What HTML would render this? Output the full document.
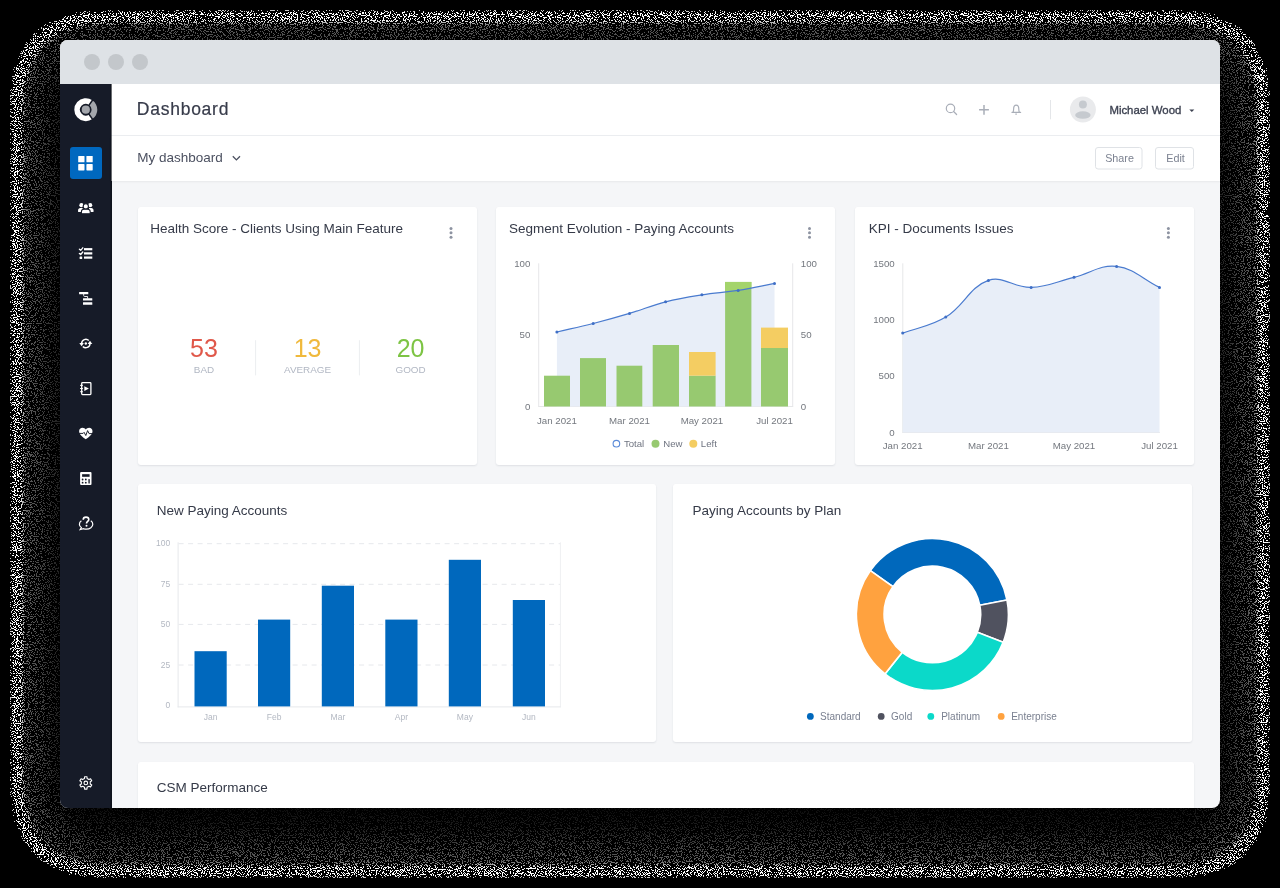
<!DOCTYPE html>
<html><head><meta charset="utf-8">
<style>
*{margin:0;padding:0;box-sizing:border-box}
html,body{width:1280px;height:888px;overflow:hidden;background:#000;font-family:"Liberation Sans",sans-serif}
.abs{position:absolute;will-change:transform}
#shadow{position:absolute;left:0;top:0;width:1280px;height:888px}
#win{position:absolute;left:0;top:0;width:1280px;height:888px;clip-path:inset(40px 60px 80px 60px round 8px);background:#f5f6f8}
#titlebar{position:absolute;left:60px;top:40px;width:1160px;height:44px;background:#dee2e6}
.dot{position:absolute;top:54px;width:16px;height:16px;border-radius:50%;background:#c3c7cb}
#sidebar{position:absolute;left:60px;top:84px;width:51.6px;height:724px;background:#161b28}
#header{position:absolute;left:111px;top:84px;width:1109px;height:52px;background:#fff;border-bottom:1px solid #eceef1}
#subheader{position:absolute;left:111px;top:136px;width:1109px;height:45px;background:#fff;box-shadow:0 1px 2px rgba(0,0,0,0.06)}
.card{position:absolute;background:#fff;border-radius:3px;box-shadow:0 1px 2px rgba(30,40,60,0.10)}
.ctitle{position:absolute;font-size:13.5px;color:#353a47;white-space:nowrap;line-height:1}
.kebab{position:absolute;width:3px;height:12px}
.kebab i{position:absolute;left:0;width:3px;height:3px;border-radius:50%;background:#9aa0ab}
.t{position:absolute;white-space:nowrap;line-height:1}
</style></head>
<body>
<svg id="shadow" width="1280" height="888" viewBox="0 0 1280 888">
<defs>
<filter id="dith" filterUnits="userSpaceOnUse" x="0" y="0" width="1280" height="888" color-interpolation-filters="sRGB">
  <feGaussianBlur in="SourceGraphic" stdDeviation="25" result="bl"/>
  <feComponentTransfer in="bl" result="sq"><feFuncR type="gamma" amplitude="1" exponent="0.5" offset="0"/><feFuncG type="gamma" amplitude="1" exponent="0.5" offset="0"/><feFuncA type="linear" slope="0" intercept="1"/></feComponentTransfer>
  <feComponentTransfer in="sq" result="maps"><feFuncR type="table" tableValues="0 0 0 0 0 0 0 0 0 0 0 0 0 0 0 0 0 0 0 0 0 0 0 0 0 0 0 0 0 0 0.1 0.212 0.241 0.271 0.3 0.33 0.328 0.327 0.325 0.323 0.322 0.32 0.318 0.317 0.315 0.313 0.312 0.31 0.307 0.304 0.301 0.298 0.295 0.292 0.288 0.285 0.282 0.279 0.276 0.273 0.27 0.27 0.269 0.269 0.269 0.268 0.268 0.268 0.267 0.267 0.267 0.267 0.266 0.266 0.266 0.265 0.265 0.265 0.264 0.264 0.264 0.263 0.263 0.263 0.262 0.262 0.262 0.261 0.261 0.261 0.261 0.26 0.26 0.259 0.259 0.259 0.258 0.258 0.257 0.257 0.257 0.256 0.256 0.255 0.255 0.255 0.254 0.254 0.253 0.253 0.253 0.252 0.252 0.251 0.251 0.251 0.25 0.25 0.249 0.249 0.249 0.248 0.248 0.247 0.247 0.247 0.246 0.246 0.245 0.245 0.245 0.244 0.244 0.243 0.243 0.243 0.242 0.242 0.241 0.241 0.241 0.24 0.24 0.239 0.239 0.239 0.238 0.238 0.238 0.237 0.237 0.237 0.236 0.236 0.236 0.235 0.235 0.235 0.234 0.234 0.234 0.233 0.233 0.233 0.232 0.232 0.232 0.231 0.231 0.231 0.23 0.23 0.23 0.229 0.229 0.229 0.228 0.228 0.228 0.227 0.227 0.226 0.226 0.226 0.225 0.225 0.225 0.224 0.224 0.224 0.223 0.223 0.223 0.222 0.222 0.222 0.221 0.221 0.221 0.22 0.22"/><feFuncG type="table" tableValues="0 0 0 0 0 0 0 0 0 0 0 0 0 0 0 0 0 0 0 0 0 0 0 0 0 0 0 0 0 0 0.5 1 1 1 1 1 1 1 1 1 1 1 1 1 1 1 1 1 0.948 0.896 0.844 0.793 0.741 0.693 0.648 0.604 0.559 0.514 0.469 0.425 0.38 0.377 0.374 0.371 0.367 0.364 0.361 0.358 0.355 0.352 0.348 0.345 0.342 0.339 0.336 0.333 0.329 0.326 0.323 0.32 0.317 0.314 0.31 0.307 0.304 0.301 0.298 0.295 0.291 0.288 0.285 0.282 0.279 0.276 0.272 0.269 0.266 0.263 0.259 0.256 0.253 0.25 0.247 0.243 0.24 0.237 0.234 0.231 0.227 0.224 0.221 0.218 0.214 0.211 0.208 0.205 0.202 0.198 0.195 0.192 0.189 0.186 0.182 0.179 0.176 0.173 0.169 0.166 0.163 0.16 0.157 0.153 0.15 0.147 0.144 0.141 0.137 0.134 0.131 0.128 0.124 0.121 0.119 0.117 0.115 0.113 0.111 0.109 0.107 0.105 0.103 0.102 0.1 0.098 0.096 0.094 0.092 0.09 0.088 0.086 0.084 0.082 0.08 0.078 0.077 0.075 0.073 0.071 0.069 0.067 0.065 0.063 0.061 0.059 0.057 0.055 0.053 0.052 0.05 0.049 0.049 0.049 0.048 0.048 0.047 0.047 0.046 0.046 0.045 0.045 0.045 0.044 0.044 0.043 0.043 0.042 0.042 0.041 0.041 0.04 0.04"/></feComponentTransfer>
  <feColorMatrix in="maps" type="matrix" values="1 0 0 0 0  1 0 0 0 0  1 0 0 0 0  0 0 0 0 1" result="dens"/>
  <feColorMatrix in="maps" type="matrix" values="0 1 0 0 0  0 1 0 0 0  0 1 0 0 0  0 0 0 0 1" result="col"/>
  <feTurbulence type="fractalNoise" baseFrequency="0.85" numOctaves="2" seed="7" result="n"/>
  <feColorMatrix in="n" type="matrix" values="1 0 0 0 0  1 0 0 0 0  1 0 0 0 0  0 0 0 0 1" result="ng"/>
  <feComponentTransfer in="ng" result="ns"><feFuncR type="linear" slope="3" intercept="-1"/><feFuncG type="linear" slope="3" intercept="-1"/><feFuncB type="linear" slope="3" intercept="-1"/></feComponentTransfer>
  <feComposite in="dens" in2="ns" operator="arithmetic" k1="0" k2="6" k3="-6" k4="0.5" result="d"/>
  <feComponentTransfer in="d" result="mask"><feFuncR type="discrete" tableValues="0 1"/><feFuncG type="discrete" tableValues="0 1"/><feFuncB type="discrete" tableValues="0 1"/><feFuncA type="linear" slope="0" intercept="1"/></feComponentTransfer>
  <feComposite in="mask" in2="col" operator="arithmetic" k1="1" k2="0" k3="0" k4="0"/>
</filter>
</defs>
<g filter="url(#dith)">
<rect x="0" y="0" width="1280" height="888" fill="#000"/>
<rect x="60" y="60" width="1160" height="768" rx="8" fill="#fff"/>
</g>
</svg>
<div id="win">
  <div id="titlebar"></div>
  <div class="dot" style="left:84px"></div>
  <div class="dot" style="left:108px"></div>
  <div class="dot" style="left:132px"></div>
  <div id="sidebar"></div>
  <div id="header"></div>
  <div id="subheader"></div>

  
<svg class="abs" style="left:0;top:0" width="1280" height="888" viewBox="0 0 1280 888">
  <!-- sidebar right edge -->
  <rect x="110.6" y="84" width="1" height="724" fill="#0b0e15"/>
  <!-- logo -->
  <path d="M92.40 119.12A11.5 11.5 0 1 1 92.40 100.28L89.13 104.95A5.8 5.8 0 1 0 89.13 114.45Z" fill="#fff"/>
  <path d="M92.40 100.28A11.5 11.5 0 0 1 92.40 119.12L89.13 114.45A5.8 5.8 0 0 0 89.13 104.95Z" fill="#a3a6ac"/>
  <path d="M88.67 113.80L92.97 119.94M88.67 105.60L92.97 99.46" stroke="#161b28" stroke-width="1.5"/>
  <circle cx="85.8" cy="109.7" r="4.1" fill="#a3a6ac"/>
  <!-- active nav -->
  <rect x="70" y="147" width="32" height="32" rx="3" fill="#0068bf"/>
  <g fill="#fff"><rect x="78.2" y="156" width="6.3" height="6.3" rx="0.6"/><rect x="86.4" y="156" width="6.3" height="6.3" rx="0.6"/><rect x="78.2" y="164.1" width="6.3" height="6.3" rx="0.6"/><rect x="86.4" y="164.1" width="6.3" height="6.3" rx="0.6"/></g>
  <!-- people -->
  <g fill="#fff">
    <circle cx="81.4" cy="205.2" r="2.1"/>
    <circle cx="90.2" cy="205.2" r="2.1"/>
    <path d="M78.1 212.1v-1.9c0-1.2 0.9-2.2 2.1-2.2h2.4v4.1z"/>
    <path d="M93.5 212.1v-1.9c0-1.2-0.9-2.2-2.1-2.2h-2.4v4.1z"/>
  </g>
  <g fill="#fff" stroke="#161b28" stroke-width="1.1">
    <circle cx="85.8" cy="206.4" r="2.6"/>
    <path d="M81.4 213.7v-2c0-1.4 1.1-2.4 2.5-2.4h3.8c1.4 0 2.5 1 2.5 2.4v2z"/>
  </g>
  <!-- checklist -->
  <g fill="#fff">
    <rect x="84" y="248.1" width="8.3" height="2.2"/>
    <rect x="84" y="252.3" width="8.3" height="2.2"/>
    <rect x="84" y="256.5" width="8.3" height="2.2"/>
    <rect x="79.6" y="256.4" width="2.6" height="2.6" rx="0.6"/>
  </g>
  <g fill="none" stroke="#fff" stroke-width="1.3" stroke-linecap="round" stroke-linejoin="round">
    <path d="M79.4 249.2l1.3 1.1 2.1-2.5"/>
    <path d="M79.4 253.4l1.3 1.1 2.1-2.5"/>
  </g>
  <!-- hierarchy -->
  <g fill="#fff">
    <rect x="79.1" y="292" width="9.2" height="2.2" rx="0.3"/>
    <rect x="83" y="298.3" width="9.3" height="2.3" rx="0.3"/>
    <rect x="83" y="302.2" width="9.3" height="2.6" rx="0.3"/>
  </g>
  <path d="M83.7 294v1.6c0 0.6 0.3 0.9 0.9 0.9h3v2" fill="none" stroke="#fff" stroke-width="0.9"/>
  <!-- sync -->
  <g fill="none" stroke="#fff" stroke-width="1.5">
    <path d="M88.77 340.53A4.2 4.2 0 0 0 81.6 343.3"/>
    <path d="M82.83 346.47A4.2 4.2 0 0 0 90 343.7"/>
  </g>
  <g fill="#fff">
    <path d="M79.3 343.1h4.6l-2.3 3.2z"/>
    <path d="M87.7 343.9h4.6l-2.3-3.2z"/>
    <circle cx="85.8" cy="343.5" r="1.2"/>
  </g>
  <!-- playbook -->
  <rect x="81.7" y="382.6" width="9.2" height="12" rx="0.8" fill="none" stroke="#fff" stroke-width="1.3"/>
  <g fill="#fff">
    <rect x="80" y="384.9" width="3" height="0.9"/><rect x="80" y="388.1" width="3" height="0.9"/><rect x="80" y="391.3" width="3" height="0.9"/>
    <path d="M84.3 386.2v4.7l4.6-2.35z"/>
  </g>
  <!-- heart -->
  <path d="M85.8 439.3C83 437.2 79.1 434.6 79.1 431.2C79.1 429.2 80.6 427.8 82.5 427.8C83.9 427.8 85.1 428.6 85.8 429.6C86.5 428.6 87.7 427.8 89.1 427.8C91 427.8 92.5 429.2 92.5 431.2C92.5 434.6 88.6 437.2 85.8 439.3Z" fill="#fff"/>
  <path d="M78.5 433.4h4.6l1-1.1 1.7 3.2 1.8-4.9 1.5 3h4.9" fill="none" stroke="#161b28" stroke-width="0.95" stroke-linejoin="round"/>
  <!-- calculator -->
  <rect x="80.1" y="472" width="11.4" height="13.1" rx="1" fill="#fff"/>
  <g fill="#161b28">
    <rect x="82.1" y="474.2" width="7.5" height="2.6"/>
    <circle cx="82.6" cy="479.5" r="0.9"/><circle cx="85.8" cy="479.5" r="0.9"/>
    <circle cx="82.6" cy="482.7" r="0.9"/><circle cx="85.8" cy="482.7" r="0.9"/>
    <rect x="88.3" y="479.1" width="1.6" height="4.4" rx="0.5" fill="#3a3f4c"/>
  </g>
  <!-- help -->
  <path d="M81.4 520.8c-1.3 0.9-2 2.1-2 3.4 0 1.4 0.7 2.6 1.9 3.4l-1.1 1.9 3.3-0.8c0.9 0.3 1.9 0.5 2.9 0.5 3.5 0 6.4-2.2 6.4-4.9 0-1.4-0.8-2.7-2-3.5" fill="none" stroke="#fff" stroke-width="1.2"/>
  <path d="M83.2 519.7c0-1.6 1.2-2.6 2.8-2.6 1.6 0 2.8 1 2.8 2.4 0 1.8-2.3 2-2.3 3.9" fill="none" stroke="#fff" stroke-width="1.6"/>
  <circle cx="86.5" cy="525.7" r="1" fill="#fff"/>
  <!-- gear -->
  <path d="M84.53 778.48 L84.60 776.72 L87.00 776.72 L87.07 778.48 L89.00 779.59 L90.55 778.77 L91.76 780.85 L90.26 781.79 L90.26 784.01 L91.76 784.95 L90.55 787.03 L89.00 786.21 L87.07 787.32 L87.00 789.08 L84.60 789.08 L84.53 787.32 L82.60 786.21 L81.05 787.03 L79.84 784.95 L81.34 784.01 L81.34 781.79 L79.84 780.85 L81.05 778.77 L82.60 779.59Z" fill="none" stroke="#fff" stroke-width="1.1" stroke-linejoin="round"/>
  <circle cx="85.8" cy="782.9" r="1.8" fill="none" stroke="#fff" stroke-width="1.1"/>

  <!-- header -->
  <text x="136.8" y="115.3" font-size="17.5" letter-spacing="0.75" fill="#373b4a" stroke="#373b4a" stroke-width="0.2">Dashboard</text>
  <g fill="none" stroke="#a9aeb8" stroke-width="1.2" stroke-linecap="round">
    <circle cx="950.5" cy="108.4" r="4.2"/>
    <path d="M953.6 111.5l3 3"/>
    <path d="M984 104.9v9.8M979.1 109.8h9.8" stroke-width="1.5" stroke-linecap="butt"/>
    <path d="M1012 112.4h8.6M1012.9 112.4c0.6-0.8 0.7-1.6 0.7-3.2 0-2.3 1-4 2.6-4s2.6 1.7 2.6 4c0 1.6 0.1 2.4 0.7 3.2" stroke-linejoin="round"/>
  </g>
  <path d="M1015.2 114.1h1.8" stroke="#a9aeb8" stroke-width="1"/>
  <rect x="1050" y="100" width="1" height="19.3" fill="#e4e6e9"/>
  <circle cx="1082.9" cy="109.5" r="13" fill="#e9eaec"/>
  <circle cx="1082.9" cy="104.5" r="4" fill="#c6cacf"/>
  <ellipse cx="1082.9" cy="115.1" rx="7.75" ry="3.75" fill="#c6cacf"/>
  <text x="1109.4" y="113.9" font-size="11.4" fill="#3d4251" stroke="#3d4251" stroke-width="0.35">Michael Wood</text>
  <path d="M1189.3 109.5h5l-2.5 2.4z" fill="#3d4251"/>
  <!-- subheader -->
  <text x="137.2" y="161.7" font-size="13.5" fill="#4b5060">My dashboard</text>
  <path d="M232.8 156.2l3.6 3.7 3.6-3.7" fill="none" stroke="#4b5060" stroke-width="1.3"/>
  <rect x="1095.5" y="147.5" width="46.5" height="21.5" rx="2.5" fill="#fff" stroke="#dfe2e6"/>
  <rect x="1155.5" y="147.5" width="38" height="21.5" rx="2.5" fill="#fff" stroke="#dfe2e6"/>
  <text x="1105.2" y="161.6" font-size="10.75" fill="#7b8190">Share</text>
  <text x="1166.3" y="161.6" font-size="10.75" fill="#7b8190">Edit</text>
</svg>

  <div class="card" style="left:138px;top:207px;width:339px;height:258px"></div>
  <div class="card" style="left:496px;top:207px;width:339px;height:258px"></div>
  <div class="card" style="left:855px;top:207px;width:339px;height:258px"></div>
  <div class="card" style="left:138px;top:484px;width:518px;height:258px"></div>
  <div class="card" style="left:673px;top:484px;width:519px;height:258px"></div>
  <div class="card" style="left:138px;top:762px;width:1056px;height:80px"></div>
<!--CARDS--><svg class="abs" style="left:0;top:0" width="1280" height="888" viewBox="0 0 1280 888">
<text x="150.2" y="232.7" font-size="13.5" fill="#353a48">Health Score - Clients Using Main Feature</text>
<g fill="#8d93a1"><circle cx="451" cy="228.39999999999998" r="1.5"/><circle cx="451" cy="232.7" r="1.5"/><circle cx="451" cy="237.2" r="1.5"/></g>
<text x="204" y="356.9" font-size="25" fill="#e0584a" text-anchor="middle">53</text>
<text x="204" y="372.7" font-size="9.9" fill="#b1b7c3" text-anchor="middle">BAD</text>
<text x="307.6" y="356.9" font-size="25" fill="#f0b93c" text-anchor="middle">13</text>
<text x="307.6" y="372.7" font-size="9.9" fill="#b1b7c3" text-anchor="middle">AVERAGE</text>
<text x="410.6" y="356.9" font-size="25" fill="#7dc444" text-anchor="middle">20</text>
<text x="410.6" y="372.7" font-size="9.9" fill="#b1b7c3" text-anchor="middle">GOOD</text>
<rect x="255.1" y="340.2" width="1" height="35.2" fill="#eceef0"/>
<rect x="358.9" y="340.2" width="1" height="35.2" fill="#eceef0"/>
<text x="508.9" y="232.7" font-size="13.5" fill="#353a48">Segment Evolution - Paying Accounts</text>
<g fill="#8d93a1"><circle cx="809.5" cy="228.39999999999998" r="1.5"/><circle cx="809.5" cy="232.7" r="1.5"/><circle cx="809.5" cy="237.2" r="1.5"/></g>
<rect x="538.2" y="263.3" width="1" height="143.2" fill="#e6e7e9"/>
<rect x="792.2" y="263.3" width="1" height="143.2" fill="#e6e7e9"/>
<rect x="538.2" y="406.0" width="255" height="1" fill="#e6e7e9"/>
<text x="530.4" y="266.8" font-size="9.7" fill="#74787f" text-anchor="end">100</text>
<text x="800.8" y="266.8" font-size="9.7" fill="#74787f">100</text>
<text x="530.4" y="338.4" font-size="9.7" fill="#74787f" text-anchor="end">50</text>
<text x="800.8" y="338.4" font-size="9.7" fill="#74787f">50</text>
<text x="530.4" y="410.0" font-size="9.7" fill="#74787f" text-anchor="end">0</text>
<text x="800.8" y="410.0" font-size="9.7" fill="#74787f">0</text>
<text x="556.9" y="423.6" font-size="9.7" fill="#74787f" text-anchor="middle">Jan 2021</text>
<text x="629.5" y="423.6" font-size="9.7" fill="#74787f" text-anchor="middle">Mar 2021</text>
<text x="701.9" y="423.6" font-size="9.7" fill="#74787f" text-anchor="middle">May 2021</text>
<text x="774.5" y="423.6" font-size="9.7" fill="#74787f" text-anchor="middle">Jul 2021</text>
<path d="M556.90 332.00C571.42 328.60 578.76 327.20 593.20 323.50C607.80 319.76 615.07 317.73 629.50 313.40C644.03 309.05 650.94 305.57 665.60 301.80C679.90 298.13 687.30 297.09 701.90 294.80C716.34 292.53 723.76 292.67 738.20 290.40C752.80 288.11 759.98 286.20 774.50 283.40L774.5 406.5L556.9 406.5Z" fill="#e8eef8"/>
<rect x="544" y="375.7" width="26.0" height="30.8" fill="#97c970"/>
<rect x="580" y="358.1" width="26.0" height="48.4" fill="#97c970"/>
<rect x="616.5" y="365.7" width="25.8" height="40.8" fill="#97c970"/>
<rect x="652.7" y="345" width="26.3" height="61.5" fill="#97c970"/>
<rect x="689" y="375.7" width="26.6" height="30.8" fill="#97c970"/>
<rect x="689" y="352" width="26.6" height="23.7" fill="#f4cd62"/>
<rect x="725.1" y="281.9" width="26.3" height="124.6" fill="#97c970"/>
<rect x="761" y="348" width="27.0" height="58.5" fill="#97c970"/>
<rect x="761" y="327.6" width="27.0" height="20.4" fill="#f4cd62"/>
<path d="M725.1 281.9H751.4V287.6L738.2 290.4L725.1 291.9Z" fill="#a4d46b"/>
<path d="M556.90 332.00C571.42 328.60 578.76 327.20 593.20 323.50C607.80 319.76 615.07 317.73 629.50 313.40C644.03 309.05 650.94 305.57 665.60 301.80C679.90 298.13 687.30 297.09 701.90 294.80C716.34 292.53 723.76 292.67 738.20 290.40C752.80 288.11 759.98 286.20 774.50 283.40" fill="none" stroke="#4a7bcf" stroke-width="1.2"/>
<circle cx="556.9" cy="332" r="1.5" fill="#3f6fc6"/>
<circle cx="593.2" cy="323.5" r="1.5" fill="#3f6fc6"/>
<circle cx="629.5" cy="313.4" r="1.5" fill="#3f6fc6"/>
<circle cx="665.6" cy="301.8" r="1.5" fill="#3f6fc6"/>
<circle cx="701.9" cy="294.8" r="1.5" fill="#3f6fc6"/>
<circle cx="738.2" cy="290.4" r="1.5" fill="#3f6fc6"/>
<circle cx="774.5" cy="283.4" r="1.5" fill="#3f6fc6"/>
<circle cx="616.4" cy="443.7" r="3.3" fill="#fff" stroke="#5b8bd9" stroke-width="1.1"/>
<text x="623.9" y="447.1" font-size="9.6" fill="#6f7480">Total</text>
<circle cx="655.5" cy="443.7" r="4" fill="#97c970"/>
<text x="663.3" y="447.1" font-size="9.6" fill="#6f7480">New</text>
<circle cx="693.3" cy="443.7" r="4" fill="#f4cd62"/>
<text x="700.8" y="447.1" font-size="9.6" fill="#6f7480">Left</text>
<text x="868.7" y="232.7" font-size="13.5" fill="#353a48">KPI - Documents Issues</text>
<g fill="#8d93a1"><circle cx="1168.4" cy="228.39999999999998" r="1.5"/><circle cx="1168.4" cy="232.7" r="1.5"/><circle cx="1168.4" cy="237.2" r="1.5"/></g>
<rect x="902.3" y="263.3" width="1" height="169.2" fill="#e6e7e9"/>
<rect x="902.3" y="432.0" width="257.5" height="1" fill="#e6e7e9"/>
<text x="894.7" y="266.6" font-size="9.7" fill="#74787f" text-anchor="end">1500</text>
<text x="894.7" y="323.0" font-size="9.7" fill="#74787f" text-anchor="end">1000</text>
<text x="894.7" y="379.4" font-size="9.7" fill="#74787f" text-anchor="end">500</text>
<text x="894.7" y="435.8" font-size="9.7" fill="#74787f" text-anchor="end">0</text>
<text x="902.7" y="449" font-size="9.7" fill="#74787f" text-anchor="middle">Jan 2021</text>
<text x="988.4" y="449" font-size="9.7" fill="#74787f" text-anchor="middle">Mar 2021</text>
<text x="1074" y="449" font-size="9.7" fill="#74787f" text-anchor="middle">May 2021</text>
<text x="1159.5" y="449" font-size="9.7" fill="#74787f" text-anchor="middle">Jul 2021</text>
<path d="M902.70 333.10C919.92 326.70 930.34 326.57 945.75 317.10C964.62 305.49 969.10 287.12 988.40 280.40C1003.24 275.24 1014.14 288.01 1031.10 287.40C1048.38 286.77 1056.88 281.50 1074.00 277.30C1091.08 273.10 1100.21 264.46 1116.60 266.40C1134.41 268.50 1142.34 279.00 1159.50 287.40L1159.5 432.5L902.7 432.5Z" fill="#e8eef8"/>
<path d="M902.70 333.10C919.92 326.70 930.34 326.57 945.75 317.10C964.62 305.49 969.10 287.12 988.40 280.40C1003.24 275.24 1014.14 288.01 1031.10 287.40C1048.38 286.77 1056.88 281.50 1074.00 277.30C1091.08 273.10 1100.21 264.46 1116.60 266.40C1134.41 268.50 1142.34 279.00 1159.50 287.40" fill="none" stroke="#4a7bcf" stroke-width="1.2"/>
<circle cx="902.7" cy="333.1" r="1.5" fill="#3f6fc6"/>
<circle cx="945.75" cy="317.1" r="1.5" fill="#3f6fc6"/>
<circle cx="988.4" cy="280.4" r="1.5" fill="#3f6fc6"/>
<circle cx="1031.1" cy="287.4" r="1.5" fill="#3f6fc6"/>
<circle cx="1074" cy="277.3" r="1.5" fill="#3f6fc6"/>
<circle cx="1116.6" cy="266.4" r="1.5" fill="#3f6fc6"/>
<circle cx="1159.5" cy="287.4" r="1.5" fill="#3f6fc6"/>
<text x="156.7" y="514.7" font-size="13.5" fill="#353a48">New Paying Accounts</text>
<path d="M178.6 543.7H560.4" stroke="#e6e8ec" stroke-width="1" stroke-dasharray="5 4.5"/>
<path d="M178.6 584.3H560.4" stroke="#e6e8ec" stroke-width="1" stroke-dasharray="5 4.5"/>
<path d="M178.6 624.4H560.4" stroke="#e6e8ec" stroke-width="1" stroke-dasharray="5 4.5"/>
<path d="M178.6 665.0H560.4" stroke="#e6e8ec" stroke-width="1" stroke-dasharray="5 4.5"/>
<text x="170.2" y="546.3" font-size="8.5" fill="#b3b8c2" text-anchor="end">100</text>
<text x="170.2" y="586.8" font-size="8.5" fill="#b3b8c2" text-anchor="end">75</text>
<text x="170.2" y="627.3" font-size="8.5" fill="#b3b8c2" text-anchor="end">50</text>
<text x="170.2" y="667.8" font-size="8.5" fill="#b3b8c2" text-anchor="end">25</text>
<text x="170.2" y="708.3" font-size="8.5" fill="#b3b8c2" text-anchor="end">0</text>
<rect x="177.6" y="542.3" width="1" height="165.1" fill="#e6e8ec"/>
<rect x="559.9" y="542.3" width="1" height="165.1" fill="#eff0f2"/>
<rect x="177.6" y="706.4" width="383" height="1" fill="#e6e8ec"/>
<rect x="194.5" y="651.2" width="32.2" height="55.2" fill="#0068bd"/>
<text x="210.6" y="720.3" font-size="8.5" fill="#b3b8c2" text-anchor="middle">Jan</text>
<rect x="258" y="619.6" width="32.2" height="86.8" fill="#0068bd"/>
<text x="274.1" y="720.3" font-size="8.5" fill="#b3b8c2" text-anchor="middle">Feb</text>
<rect x="321.8" y="585.7" width="32.2" height="120.7" fill="#0068bd"/>
<text x="337.9" y="720.3" font-size="8.5" fill="#b3b8c2" text-anchor="middle">Mar</text>
<rect x="385.3" y="619.6" width="32.2" height="86.8" fill="#0068bd"/>
<text x="401.4" y="720.3" font-size="8.5" fill="#b3b8c2" text-anchor="middle">Apr</text>
<rect x="448.8" y="559.8" width="32.2" height="146.6" fill="#0068bd"/>
<text x="464.9" y="720.3" font-size="8.5" fill="#b3b8c2" text-anchor="middle">May</text>
<rect x="512.8" y="600" width="32.2" height="106.4" fill="#0068bd"/>
<text x="528.9" y="720.3" font-size="8.5" fill="#b3b8c2" text-anchor="middle">Jun</text>
<text x="692.6" y="514.7" font-size="13.5" fill="#353a48">Paying Accounts by Plan</text>
<path d="M870.37 570.58A76 76 0 0 1 1007.00 600.00L979.81 605.28A48.3 48.3 0 0 0 892.98 586.59Z" fill="#0068bc" stroke="#fff" stroke-width="1.6" stroke-linejoin="bevel"/>
<path d="M1007.00 600.00A76 76 0 0 1 1003.11 642.35L977.34 632.20A48.3 48.3 0 0 0 979.81 605.28Z" fill="#50525f" stroke="#fff" stroke-width="1.6" stroke-linejoin="bevel"/>
<path d="M1003.11 642.35A76 76 0 0 1 884.99 673.90L902.27 652.25A48.3 48.3 0 0 0 977.34 632.20Z" fill="#0bd9c9" stroke="#fff" stroke-width="1.6" stroke-linejoin="bevel"/>
<path d="M884.99 673.90A76 76 0 0 1 870.37 570.58L892.98 586.59A48.3 48.3 0 0 0 902.27 652.25Z" fill="#ffa23f" stroke="#fff" stroke-width="1.6" stroke-linejoin="bevel"/>
<circle cx="810.35" cy="716.4" r="3.4" fill="#0068bc"/>
<text x="820.1" y="720.1" font-size="10" fill="#7a8090">Standard</text>
<circle cx="881.2" cy="716.4" r="3.4" fill="#50525f"/>
<text x="891.1" y="720.1" font-size="10" fill="#7a8090">Gold</text>
<circle cx="930.8" cy="716.4" r="3.4" fill="#0bd9c9"/>
<text x="941.2" y="720.1" font-size="10" fill="#7a8090">Platinum</text>
<circle cx="1001.2" cy="716.4" r="3.4" fill="#ffa23f"/>
<text x="1011.2" y="720.1" font-size="10" fill="#7a8090">Enterprise</text>
<text x="156.7" y="791.6" font-size="13.5" fill="#353a48">CSM Performance</text>
</svg><!--/CARDS-->
</div>
</body></html>
